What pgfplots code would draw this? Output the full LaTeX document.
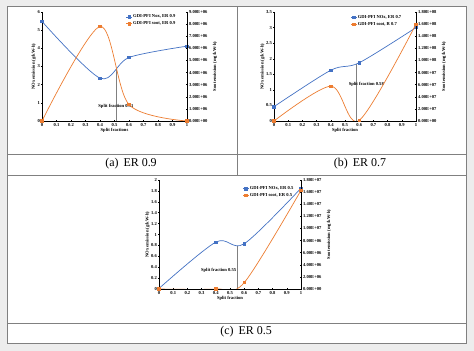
\documentclass[border=0pt]{standalone}
\usepackage{fontspec}
\setmainfont{Liberation Serif}
\usepackage{pgfplots}
\pgfplotsset{compat=1.18}
\definecolor{noxblue}{HTML}{4472C4}
\definecolor{sootorange}{HTML}{ED7D31}
\definecolor{framegray}{HTML}{808080}
\newcommand{\tinyfont}{\fontsize{4.6}{5.2}\selectfont\bfseries}
\pgfplotsset{
  base/.style={scale only axis, xmin=0, xmax=1, ymin=0,
    tick align=center, major tick length=2bp,
    axis line style={-, black, line width=0.5pt},
    every tick/.style={black, line width=0.4pt},
    tick label style={font=\tinyfont, inner sep=1pt},
    label style={font=\tinyfont},
    scaled y ticks=false,
    /pgf/number format/assume math mode=true,
    clip mode=individual},
  leftax/.style={base, axis x line*=bottom, axis y line*=left,
    xtick={0,0.1,0.2,0.3,0.4,0.5,0.6,0.7,0.8,0.9,1},
    xticklabels={0,0.1,0.2,0.3,0.4,0.5,0.6,0.7,0.8,0.9,1},
    xlabel style={yshift=3pt}, ylabel style={yshift=-3pt}},
  rightax/.style={base, axis x line=none, axis y line*=right, xtick=\empty,
    ylabel style={yshift=-1pt},
    legend style={draw=none, fill=none, font=\tinyfont, inner sep=0.5pt,
      row sep=0.8pt, nodes={inner sep=0.8pt}, cells={anchor=west}},
    legend image code/.code={\draw[mark repeat=2,mark phase=2,##1] plot coordinates {(0cm,0cm) (0.1cm,0cm) (0.2cm,0cm)};}},
  noxline/.style={noxblue, line width=0.7pt, smooth, mark=square*, mark size=1.2pt, mark options={fill=noxblue, draw=noxblue}},
  sootline/.style={sootorange, line width=0.7pt, smooth, mark=square*, mark size=1.2pt, mark options={fill=sootorange, draw=sootorange}},
  splitline/.style={gray, line width=0.4pt, no marks}
}
\begin{document}
\begin{tikzpicture}
\useasboundingbox (0,0) rectangle (474bp,351bp);
\fill[black!7] (0,0) rectangle (474bp,351bp);
\fill[white] (7bp,8bp) rectangle (466bp,345bp);
\draw[framegray, line width=0.8pt] (7bp,8bp) rectangle (466bp,345bp);
\draw[framegray, line width=0.8pt] (7bp,197bp) -- (466bp,197bp);
\draw[framegray, line width=0.8pt] (7bp,176bp) -- (466bp,176bp);
\draw[framegray, line width=0.8pt] (7bp,28bp) -- (466bp,28bp);
\draw[framegray, line width=0.8pt] (237bp,176bp) -- (237bp,345bp);
\node[font=\fontsize{12}{14}\selectfont] at (131bp,187bp) {(a)\, ER 0.9};
\node[font=\fontsize{12}{14}\selectfont] at (360bp,187bp) {(b)\, ER 0.7};
\node[font=\fontsize{12}{14}\selectfont] at (246bp,19bp) {(c)\, ER 0.5};

% ---------- (a) ----------
\begin{axis}[leftax, at={(42bp,230bp)}, anchor=south west, width=145bp, height=109bp,
  ymax=6, ytick={0,1,2,3,4,5,6},
  xlabel={Split fractions}, ylabel={NOx emission (g/kW-h)}]
\addplot[splitline] coordinates {(0.51,0) (0.51,2.85)};
\addplot[noxline] coordinates {(0,5.48) (0.4,2.36) (0.6,3.5) (1,4.12)};
\node[font=\tinyfont] at (axis cs:0.51,0.78) {Split fraction 0.51};
\end{axis}
\begin{axis}[rightax, at={(42bp,230bp)}, anchor=south west, width=145bp, height=109bp,
  ymax=9e6, ytick={0,1e6,2e6,3e6,4e6,5e6,6e6,7e6,8e6,9e6},
  yticklabels={0.00E+00,1.00E+06,2.00E+06,3.00E+06,4.00E+06,5.00E+06,6.00E+06,7.00E+06,8.00E+06,9.00E+06},
  ylabel={Soot emission (mg/kW-h)},
  legend style={at={(0.575,0.99)}, anchor=north west}]
\addlegendimage{noxline}
\addlegendentry{GDI-PFI Nox, ER 0.9}
\addplot[sootline] coordinates {(0,0) (0.4,7.8e6) (0.6,1.35e6) (1,0)};
\addlegendentry{GDI-PFI soot, ER 0.9}
\end{axis}

% ---------- (b) ----------
\begin{axis}[leftax, at={(274bp,230bp)}, anchor=south west, width=142bp, height=109bp,
  ymax=3.5, ytick={0,0.5,1,1.5,2,2.5,3,3.5}, yticklabels={0,0.5,1,1.5,2,2.5,3,3.5},
  xlabel={Split fraction}, ylabel={NOx emission (g/kW-h)}]
\addplot[splitline] coordinates {(0.58,0) (0.58,1.84)};
\addplot[noxline] coordinates {(0,0.46) (0.4,1.63) (0.6,1.87) (1,3.0)};
\node[font=\tinyfont] at (axis cs:0.65,1.16) {Split fraction 0.58};
\end{axis}
\begin{axis}[rightax, at={(274bp,230bp)}, anchor=south west, width=142bp, height=109bp,
  ymax=1.8e8, ytick={0,2e7,4e7,6e7,8e7,1e8,1.2e8,1.4e8,1.6e8,1.8e8},
  yticklabels={0.00E+00,2.00E+07,4.00E+07,6.00E+07,8.00E+07,1.00E+08,1.20E+08,1.40E+08,1.60E+08,1.80E+08},
  ylabel={Soot emission (mg/kW-h)},
  legend style={at={(0.535,0.985)}, anchor=north west}]
\addlegendimage{noxline}
\addlegendentry{GDI-PFI NOx, ER 0.7}
\addplot[sootline] coordinates {(0,0) (0.4,5.75e7) (0.6,1e6) (1,1.6e8)};
\addlegendentry{GDI-PFI soot, R 0.7}
\end{axis}

% ---------- (c) ----------
\begin{axis}[leftax, at={(159bp,62bp)}, anchor=south west, width=142bp, height=109bp,
  ymax=2, ytick={0,0.2,0.4,0.6,0.8,1,1.2,1.4,1.6,1.8,2}, yticklabels={0,0.2,0.4,0.6,0.8,1,1.2,1.4,1.6,1.8,2},
  xlabel={Split fraction}, ylabel={NOx emission (g/kW-h)}]
\addplot[splitline] coordinates {(0.55,0) (0.55,0.78)};
\addplot[noxline] coordinates {(0,0.01) (0.4,0.86) (0.6,0.83) (1,1.85)};
\node[font=\tinyfont] at (axis cs:0.42,0.35) {Split fraction 0.55};
\end{axis}
\begin{axis}[rightax, at={(159bp,62bp)}, anchor=south west, width=142bp, height=109bp,
  ymax=1.8e7, ytick={0,2e6,4e6,6e6,8e6,1e7,1.2e7,1.4e7,1.6e7,1.8e7},
  yticklabels={0.00E+00,2.00E+06,4.00E+06,6.00E+06,8.00E+06,1.00E+07,1.20E+07,1.40E+07,1.60E+07,1.80E+07},
  ylabel={Soot emission (mg/kW-h)},
  legend style={at={(0.585,0.955)}, anchor=north west}]
\addlegendimage{noxline}
\addlegendentry{GDI-PFI NOx, ER 0.5}
\addplot[sootline] coordinates {(0,0) (0.4,0) (0.6,1.05e6) (1,1.63e7)};
\addlegendentry{GDI-PFI soot, ER 0.5}
\end{axis}
\end{tikzpicture}
\end{document}
